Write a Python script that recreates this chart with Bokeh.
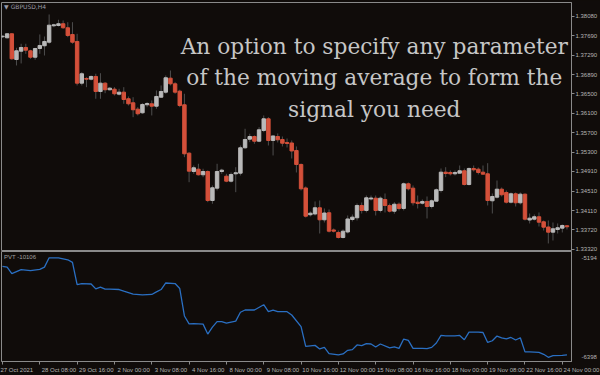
from bokeh.plotting import figure
from bokeh.layouts import column
from bokeh.models import Range1d, FixedTicker, PrintfTickFormatter, Label, ColumnDataSource
from bokeh.embed import file_html
from bokeh.resources import INLINE

# ---------------- data ----------------
opens = [1.37665,1.37644,1.37726,1.37200,1.37370,1.37446,1.37378,1.37247,1.37425,1.37481,
         1.37554,1.37890,1.37896,1.37931,1.37849,1.37712,1.37569,1.36716,1.36812,1.36797,
         1.36853,1.36546,1.36716,1.36581,1.36593,1.36491,1.36532,1.36397,1.36315,1.36184,
         1.36110,1.36274,1.36294,1.36245,1.36429,1.36532,1.36818,1.36703,1.36552,1.36274,
         1.35284,1.34909,1.34956,1.34842,1.34909,1.34316,1.34568,1.34909,1.34813,1.34711,
         1.34862,1.34875,1.35394,1.35570,1.35625,1.35529,1.35748,1.35987,1.35544,1.35625,
         1.35564,1.35503,1.35492,1.35339,1.35053,1.34572,1.34024,1.34040,1.34167,1.33921,
         1.34065,1.33713,1.33662,1.33559,1.33672,1.33927,1.33962,1.34214,1.34112,1.34347,
         1.34363,1.34112,1.34337,1.34214,1.34097,1.34240,1.34153,1.34658,1.34568,1.34281,
         1.34261,1.34296,1.34193,1.34302,1.34521,1.34895,1.34889,1.34862,1.34875,1.34924,
         1.34643,1.34971,1.34956,1.34895,1.34862,1.34310,1.34384,1.34547,1.34480,1.34281,
         1.34453,1.34269,1.34445,1.33917,1.33934,1.33983,1.33880,1.33774,1.33668,1.33723,
         1.33750,1.33799]
highs = [1.37691,1.37738,1.37738,1.37440,1.37522,1.37522,1.37399,1.37440,1.37712,1.37671,
         1.38121,1.37931,1.38013,1.37998,1.37963,1.37963,1.37726,1.36941,1.36838,1.36873,
         1.36908,1.36920,1.36736,1.36634,1.36634,1.36601,1.36634,1.36444,1.36429,1.36225,
         1.36307,1.36327,1.36362,1.36566,1.36669,1.36873,1.36975,1.36736,1.36581,1.36499,
         1.35304,1.35032,1.35067,1.34965,1.34930,1.34623,1.35067,1.34965,1.34862,1.34889,
         1.34997,1.35441,1.35783,1.35681,1.35646,1.35816,1.36055,1.36020,1.35646,1.35687,
         1.35625,1.35584,1.35544,1.35421,1.35073,1.34603,1.34091,1.34296,1.34316,1.34153,
         1.34132,1.33743,1.33702,1.33723,1.34009,1.34030,1.34255,1.34275,1.34418,1.34418,
         1.34418,1.34398,1.34459,1.34255,1.34281,1.34275,1.34684,1.34684,1.34623,1.34418,
         1.34337,1.34398,1.34337,1.34562,1.34971,1.34997,1.34930,1.34930,1.35032,1.34971,
         1.34991,1.35032,1.34991,1.35032,1.35079,1.34459,1.34725,1.34582,1.34521,1.34480,
         1.34480,1.34480,1.34459,1.34050,1.34030,1.34071,1.33907,1.33907,1.33866,1.33846,
         1.33825,1.33805]
lows = [1.37640,1.37630,1.37194,1.37078,1.37119,1.37317,1.37215,1.37194,1.37317,1.37282,
        1.37522,1.37861,1.37875,1.37828,1.37657,1.37522,1.36669,1.36669,1.36634,1.36771,
        1.36397,1.36397,1.36511,1.36566,1.36464,1.36464,1.36294,1.36259,1.36020,1.36055,
        1.36090,1.36225,1.36055,1.36192,1.36417,1.36499,1.36669,1.36499,1.36225,1.35202,
        1.34690,1.34862,1.34828,1.34793,1.34281,1.34249,1.34521,1.34862,1.34690,1.34684,
        1.34486,1.34828,1.35374,1.35509,1.35476,1.35509,1.35713,1.35441,1.35237,1.35503,
        1.35421,1.35400,1.35175,1.34889,1.34521,1.33968,1.33989,1.34009,1.33641,1.33866,
        1.33662,1.33662,1.33539,1.33539,1.33641,1.33887,1.33907,1.34050,1.34071,1.34316,
        1.34009,1.34071,1.34071,1.34071,1.34044,1.34112,1.34112,1.34521,1.34214,1.34153,
        1.34234,1.33948,1.34153,1.34296,1.34480,1.34793,1.34828,1.34828,1.34868,1.34623,
        1.34623,1.34909,1.34848,1.34848,1.34214,1.34050,1.34357,1.34398,1.34255,1.34255,
        1.34193,1.34234,1.33907,1.33846,1.33907,1.33784,1.33702,1.33437,1.33498,1.33641,
        1.33662,1.33723]
closes = [1.37677,1.37726,1.37215,1.37378,1.37446,1.37391,1.37247,1.37425,1.37487,1.37569,
          1.37902,1.37910,1.37931,1.37849,1.37691,1.37554,1.36716,1.36908,1.36797,1.36853,
          1.36546,1.36716,1.36581,1.36613,1.36499,1.36532,1.36382,1.36294,1.36172,1.36090,
          1.36280,1.36300,1.36245,1.36444,1.36546,1.36826,1.36703,1.36532,1.36259,1.35271,
          1.34916,1.34985,1.34842,1.34909,1.34316,1.34576,1.34909,1.34936,1.34711,1.34848,
          1.34883,1.35394,1.35564,1.35625,1.35529,1.35762,1.35987,1.35544,1.35636,1.35558,
          1.35488,1.35482,1.35329,1.35053,1.34555,1.33995,1.34056,1.34167,1.33921,1.34060,
          1.33688,1.33688,1.33559,1.33688,1.33938,1.33975,1.34214,1.34112,1.34371,1.34367,
          1.34112,1.34363,1.34214,1.34097,1.34240,1.34153,1.34658,1.34555,1.34269,1.34255,
          1.34296,1.34193,1.34310,1.34535,1.34895,1.34868,1.34862,1.34889,1.34924,1.34643,
          1.34971,1.34944,1.34889,1.34854,1.34316,1.34398,1.34547,1.34433,1.34281,1.34453,
          1.34269,1.34445,1.33934,1.33954,1.33983,1.33872,1.33770,1.33668,1.33737,1.33758,
          1.33805,1.33778]

pvt_bars = [0,1,2,4,6,8,9,10,12,14,15,16,17,19,20,21,22,23,25,26,28,30,32,33,34,35,37,38,39,
            40,41,43,44,45,46,47,48,50,51,52,54,56,57,58,59,61,62,64,65,67,68,69,70,72,73,
            74,75,76,77,78,79,80,81,83,84,85,86,87,88,90,91,92,93,94,95,97,98,99,100,102,
            103,104,105,106,107,108,109,110,111,112,113,115,116,117,118,120,121]
pvt_vals = [-5298,-5307,-5386,-5338,-5350,-5334,-5307,-5194,-5194,-5218,-5250,-5518,-5506,
            -5511,-5570,-5550,-5574,-5574,-5578,-5598,-5634,-5642,-5638,-5606,-5578,-5499,
            -5506,-5566,-5898,-5994,-5990,-5997,-6117,-6033,-5966,-5966,-5985,-5961,-5853,
            -5826,-5826,-5762,-5846,-5826,-5846,-5846,-5886,-6026,-6266,-6254,-6297,-6278,
            -6353,-6369,-6357,-6314,-6305,-6249,-6257,-6233,-6237,-6273,-6237,-6285,-6273,
            -6290,-6177,-6194,-6290,-6290,-6293,-6278,-6225,-6134,-6138,-6138,-6134,-6186,
            -6093,-6093,-6098,-6218,-6198,-6141,-6162,-6174,-6158,-6189,-6162,-6333,-6333,
            -6338,-6362,-6398,-6377,-6374,-6369]

price_ticks = [1.38080,1.37690,1.37290,1.36890,1.36500,1.36100,1.35700,1.35300,
               1.34910,1.34510,1.34110,1.33720,1.33320]
pvt_ticks = [-5194, -6398]
time_bars = [0,8,16,24,32,40,48,56,64,72,80,88,96,104,112,120]
time_labels = ["27 Oct 2021","28 Oct 08:00","29 Oct 16:00","2 Nov 00:00","3 Nov 08:00",
               "4 Nov 16:00","8 Nov 00:00","9 Nov 08:00","10 Nov 16:00","12 Nov 00:00",
               "15 Nov 08:00","16 Nov 16:00","18 Nov 00:00","19 Nov 08:00","22 Nov 16:00",
               "24 Nov 00:00"]
symbol_label = "\u25bc GBPUSD,H4"
pvt_label = "PVT -10106"
headline = ["An option to specify any parameter",
            "of the moving average to form the",
            "signal you need"]

# ---------------- style ----------------
BG = "#100c0a"
FRAME = "#8a8a8a"
TXT = "#b4b4b4"
BULL = "#b9b9b9"
BEAR = "#d4503a"
WICK = "#4e4e4e"
W = 600
H_TOP = 251
H_BOT = 124

xr = Range1d(-0.21, 121.97)

idx = list(range(len(opens)))
tops = [max(o, c) for o, c in zip(opens, closes)]
bots = [min(o, c) for o, c in zip(opens, closes)]
cols = [BULL if c >= o else BEAR for o, c in zip(opens, closes)]
src = ColumnDataSource(dict(x=idx, high=highs, low=lows, top=tops, bottom=bots, color=cols))


def style(p):
    p.background_fill_color = BG
    p.border_fill_color = BG
    p.outline_line_color = FRAME
    p.outline_line_width = 1
    p.xgrid.visible = False
    p.ygrid.visible = False


# ---------------- main price panel ----------------
p1 = figure(width=W, height=H_TOP, x_range=xr, y_range=Range1d(1.33293, 1.38366),
            output_backend="svg", toolbar_location=None, x_axis_location=None,
            y_axis_location="right", min_border_top=2, min_border_bottom=1,
            min_border_left=1, min_border_right=27)
style(p1)
p1.segment(x0="x", y0="low", x1="x", y1="high", source=src, line_color=WICK, line_width=1)
p1.vbar(x="x", top="top", bottom="bottom", width=0.74, source=src,
        fill_color="color", line_color="color", line_width=1)

ax = p1.yaxis[0]
ax.ticker = FixedTicker(ticks=price_ticks)
ax.formatter = PrintfTickFormatter(format="%.5f")
ax.axis_line_color = FRAME
ax.major_tick_line_color = FRAME
ax.major_tick_out = 3
ax.major_tick_in = 0
ax.minor_tick_line_color = None
ax.major_label_standoff = 1
ax.major_label_text_font = "Liberation Sans"
ax.major_label_text_font_size = "6px"
ax.major_label_text_color = TXT

p1.add_layout(Label(x=0.35, y=1.38284, text=symbol_label, text_font="DejaVu Sans",
                    text_font_size="6px", text_color="#9a9aa6", text_baseline="middle"))
for txt, yb in zip(headline, [1.37467, 1.36826, 1.36178]):
    p1.add_layout(Label(x=79.7, y=yb, text=txt, text_font="DejaVu Serif",
                        text_font_size="21.7px", text_color="#c6c6c6",
                        text_align="center", text_baseline="alphabetic"))

# ---------------- PVT panel ----------------
p2 = figure(width=W, height=H_BOT, x_range=xr, y_range=Range1d(-6449, -5118),
            output_backend="svg", toolbar_location=None, y_axis_location="right",
            min_border_top=0, min_border_bottom=13, min_border_left=1, min_border_right=27)
style(p2)
p2.line(pvt_bars, pvt_vals, line_color="#2a6fc2", line_width=1.3)

ay = p2.yaxis[0]
ay.ticker = FixedTicker(ticks=pvt_ticks)
ay.formatter = PrintfTickFormatter(format="%d")
ay.axis_line_color = FRAME
ay.major_tick_line_color = None
ay.minor_tick_line_color = None
ay.major_label_standoff = 4
ay.major_label_text_font = "Liberation Sans"
ay.major_label_text_font_size = "6px"
ay.major_label_text_color = TXT

# labels start at their tick (MT4 style): pad on the left with no-break spaces;
# the first one is kept inside the canvas by Bokeh itself
pad = "\u00a0" * 23
overrides = {}
for k, (b, t) in enumerate(zip(time_bars, time_labels)):
    overrides[b] = t if k == 0 else pad + t
axx = p2.xaxis[0]
axx.ticker = FixedTicker(ticks=time_bars)
axx.major_label_overrides = overrides
axx.axis_line_color = FRAME
axx.major_tick_line_color = FRAME
axx.major_tick_out = 3
axx.major_tick_in = 0
axx.minor_tick_line_color = None
axx.major_label_standoff = 2
axx.major_label_text_font = "Liberation Sans"
axx.major_label_text_font_size = "6px"
axx.major_label_text_color = TXT

p2.add_layout(Label(x=0.35, y=-5187, text=pvt_label, text_font="Liberation Sans",
                    text_font_size="6px", text_color="#a0a0a0", text_baseline="middle"))

layout = column(p1, p2, spacing=0)
layout.styles = {"background-color": BG}

open("out.html", "w").write(file_html(layout, INLINE))
